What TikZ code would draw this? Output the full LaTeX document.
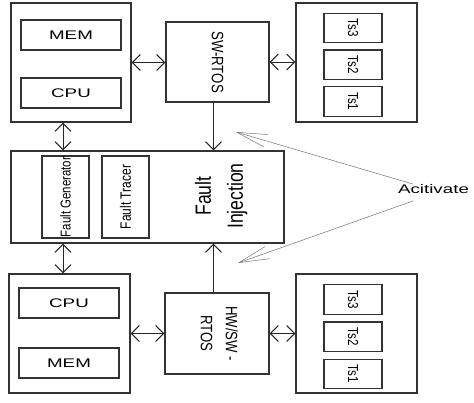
\documentclass[tikz,border=0pt]{standalone}
\usepackage{fontspec}
\usepackage{graphicx}
\setmainfont{Liberation Sans}
\newfontfamily\hfont[FakeStretch=1.5]{Liberation Sans}
\newfontfamily\vfont[FakeStretch=0.8]{Liberation Sans}
\usetikzlibrary{arrows.meta, positioning}

\newcommand{\rotdown}[1]{\rotatebox{-90}{#1}}
\newcommand{\rotup}[1]{\rotatebox{90}{#1}}

\begin{document}
\begin{tikzpicture}[x=1pt, y=-1pt,
        >={Straight Barb[length=8pt,width=16pt]},
        block/.style={draw=black!80, line width=1.2pt, inner sep=0pt},
        unit/.style={block, minimum width=100pt, minimum height=30pt,
            font=\hfont\fontsize{12.5}{15}\selectfont},
        tsbox/.style={block, minimum width=58pt, minimum height=29.5pt,
            font=\vfont\fontsize{14.5}{17}\selectfont},
        link/.style={draw=black!85, line width=1pt},
        pointer/.style={draw=black!55, line width=0.5pt,
            -{Straight Barb[length=30pt,width=13pt]}}]
        \useasboundingbox (0,0) rectangle (474,402);

        % upper row
        \node[block, minimum width=120pt, minimum height=119pt] (hostA) at (71,62.5) {};
        \node[unit] (memA) at (71,35) {MEM};
        \node[unit] (cpuA) at (71,93) {CPU};
        \node[block, minimum width=103pt, minimum height=80pt,
            font=\vfont\fontsize{16.5}{19}\selectfont] (swrtos) at (217.5,62) {\rotdown{SW-RTOS}};
        \node[block, minimum width=121pt, minimum height=119pt] (tsA) at (356.5,62.5) {};
        \node[tsbox] (ts3A) at (353,28) {\rotdown{Ts3}};
        \node[tsbox] (ts2A) [below=6pt of ts3A] {\rotdown{Ts2}};
        \node[tsbox] (ts1A) [below=6pt of ts2A] {\rotdown{Ts1}};

        % fault injection
        \node[block, minimum width=273pt, minimum height=92pt] (fault) at (147.5,197) {};
        \node[block, minimum width=47pt, minimum height=82pt,
            font=\vfont\fontsize{14.3}{17}\selectfont] (fgen) at (65.5,197) {\rotup{Fault Generator}};
        \node[block, minimum width=47pt, minimum height=82pt,
            font=\vfont\fontsize{15}{18}\selectfont] (ftrace) at (125.5,197) {\rotup{Fault Tracer}};
        \node[font=\vfont\fontsize{22}{24}\selectfont, inner sep=0pt] (faultLbl) at (222,196)
            {\rotup{\begin{tabular}{@{}c@{}}Fault\\[8pt]Injection\end{tabular}}};

        % lower row
        \node[block, minimum width=121pt, minimum height=119pt] (hostB) at (69.5,333.5) {};
        \node[unit] (cpuB) at (69,303) {CPU};
        \node[unit] (memB) at (69,363) {MEM};
        \node[block, minimum width=104pt, minimum height=81pt,
            font=\vfont\fontsize{16.5}{18}\selectfont] (hwsw) at (217,333.5)
            {\rotdown{\begin{tabular}{@{}c@{}}HW/SW -\\[7pt]RTOS\end{tabular}}};
        \node[block, minimum width=121pt, minimum height=119pt] (tsB) at (356.5,333.5) {};
        \node[tsbox] (ts3B) at (353,299.5) {\rotdown{Ts3}};
        \node[tsbox] (ts2B) [below=6.5pt of ts3B] {\rotdown{Ts2}};
        \node[tsbox] (ts1B) [below=6.5pt of ts2B] {\rotdown{Ts1}};

        \node[font=\hfont\fontsize{12.5}{15}\selectfont, inner sep=0pt] (acti) at (433.5,189) {Acitivate};

        \coordinate (busL) at (63,0);
        \coordinate (busR) at (213.5,0);
        \coordinate (tipA) at (236,132);
        \coordinate (tipB) at (238,263);

        \path[link]
                (hostA.east) edge[<->] (hostA.east -| swrtos.west)
                (swrtos.east) edge[<->] (swrtos.east -| tsA.west)
                (hostA.south -| busL) edge[<->] (fault.north -| busL)
                (swrtos.south -| busR) edge[->] (fault.north -| busR)
                (fault.south -| busL) edge[<->] (hostB.north -| busL)
                (hwsw.north -| busR) edge[->] (fault.south -| busR)
                (hostB.east) edge[<->] (hostB.east -| hwsw.west)
                (hwsw.east) edge[<->] (hwsw.east -| tsB.west);

        \draw[pointer] ([xshift=-20pt]acti.north) -- (tipA);
        \draw[pointer] ([xshift=-20pt,yshift=-7pt]acti.south) -- (tipB);
\end{tikzpicture}
\end{document}
